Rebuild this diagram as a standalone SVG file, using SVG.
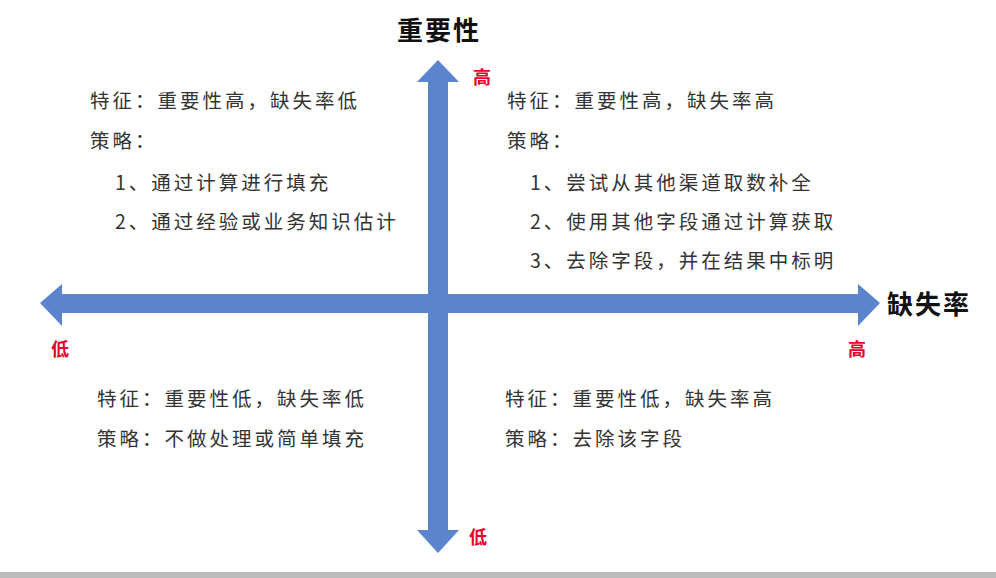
<svg xmlns="http://www.w3.org/2000/svg" width="996" height="578" viewBox="0 0 996 578">
<style>
.t{font-family:"Noto Sans CJK SC","Liberation Sans",sans-serif;font-size:19.5px;letter-spacing:3px;fill:#333}
.r{font-family:"Noto Sans CJK SC",sans-serif;font-size:18px;font-weight:bold;fill:#e8002a;text-anchor:middle}
.h{font-family:"Noto Sans CJK SC",sans-serif;font-size:26px;font-weight:bold;fill:#111;letter-spacing:2px}
.ax{fill:#5b84cc}
</style>
<rect width="996" height="578" fill="#fff"/>
<rect x="0" y="572" width="996" height="6" fill="#bbb"/>
<g id="connectors">
<path class="ax" d="M438,60 L459,82 L448,82 L448,530 L459,530 L438,553 L417,530 L428,530 L428,82 L417,82 Z"/>
<path class="ax" d="M40,303 L62,284 L62,294 L858,294 L858,284 L880,303 L858,326 L858,313 L62,313 L62,326 Z"/>
</g>
<g id="axis-labels">
<text class="h" x="397" y="40">重要性</text>
<text class="h" x="887" y="314">缺失率</text>
<text class="r" x="482" y="84">高</text>
<text class="r" x="60" y="356">低</text>
<text class="r" x="857" y="356">高</text>
<text class="r" x="478" y="544">低</text>
</g>
<g id="q1">
<text class="t" x="90" y="108">特征：重要性高，缺失率低</text>
<text class="t" x="90" y="148">策略：</text>
<text class="t" x="115" y="190">1、通过计算进行填充</text>
<text class="t" x="115" y="229">2、通过经验或业务知识估计</text>
</g>
<g id="q2">
<text class="t" x="507" y="108">特征：重要性高，缺失率高</text>
<text class="t" x="507" y="148">策略：</text>
<text class="t" x="530" y="190">1、尝试从其他渠道取数补全</text>
<text class="t" x="530" y="229">2、使用其他字段通过计算获取</text>
<text class="t" x="530" y="268">3、去除字段，并在结果中标明</text>
</g>
<g id="q3">
<text class="t" x="97" y="406">特征：重要性低，缺失率低</text>
<text class="t" x="97" y="446">策略：不做处理或简单填充</text>
</g>
<g id="q4">
<text class="t" x="505" y="406">特征：重要性低，缺失率高</text>
<text class="t" x="505" y="446">策略：去除该字段</text>
</g>
</svg>
